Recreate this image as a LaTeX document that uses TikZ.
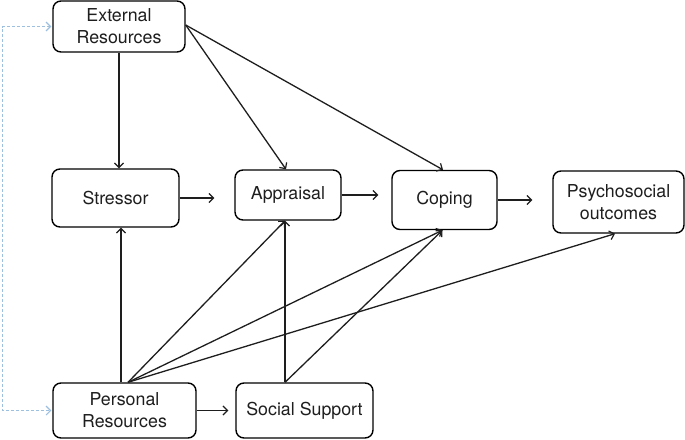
\documentclass[tikz,border=0pt]{standalone}
\usepackage{fontspec}
\setmainfont{TeX Gyre Heros}
\usetikzlibrary{arrows.meta, positioning}
\definecolor{linkBlue}{HTML}{9DBFE0}
\definecolor{inkDark}{HTML}{1E1E1E}

\begin{document}
\begin{tikzpicture}[x=1pt, y=-1pt,
    bloque/.style={draw, rounded corners=8pt, line width=1.4pt, align=center,
                   inner sep=0pt, text=inkDark,
                   font=\fontsize{17.8}{22}\selectfont},
    fl/.style={-{Straight Barb[length=4.5pt, width=9pt, line width=1.2pt]},
               line width=1.3pt, color=inkDark},
    enlace/.style={{Straight Barb[length=4.5pt, width=9pt]}-{Straight Barb[length=4.5pt, width=9pt]},
                   densely dashed, line width=1.1pt, color=linkBlue}]
    \useasboundingbox (0,0) rectangle (685,439);
    \node[bloque, minimum width=132pt, minimum height=51pt] (ext) at (119,26.5)  {External\\Resources};
    \node[bloque, minimum width=127pt, minimum height=58pt] (str) at (115.5,198) {Stressor};
    \node[bloque, minimum width=106pt, minimum height=50pt] (app) at (288,195)   {Appraisal};
    \node[bloque, minimum width=105pt, minimum height=59pt] (cop) at (444.5,200) {Coping};
    \node[bloque, minimum width=131pt, minimum height=62pt] (out) at (618.5,202) {Psychosocial\\outcomes};
    \node[bloque, minimum width=143pt, minimum height=55pt] (per) at (124.5,410.5) {Personal\\Resources};
    \node[bloque, minimum width=137pt, minimum height=55pt] (soc) at (304.5,410.5) {Social Support};
    % main chain
    \draw[fl, shorten >=20pt] (str.east) -- (str.east -| app.west);
    \draw[fl, shorten >=13pt] (app.east) -- (app.east -| cop.west);
    \draw[fl, shorten >=20pt] (cop.east) -- (cop.east -| out.west);
    \draw[fl, shorten >=7pt]  (per.east) -- (per.east -| soc.west);
    % external resources
    \draw[fl] (ext.south) -- (ext.south |- str.north);
    \draw[fl] ([yshift=1.5pt]ext.east) -- ([xshift=-2pt]app.north);
    \draw[fl] ([yshift=1.5pt]ext.east) -- ([xshift=-1.5pt]cop.north);
    % personal resources
    \coordinate (pr) at ([xshift=3.5pt]per.north);
    \draw[fl] ([xshift=-3.5pt]per.north) -- ([xshift=-3.5pt]per.north |- str.south);
    \draw[fl] (pr) -- ([xshift=-3pt]app.south);
    \draw[fl] (pr) -- ([xshift=-2pt]cop.south);
    \draw[fl] (pr) -- ([xshift=-3.5pt]out.south);
    % social support
    \coordinate (ss) at ([xshift=-3pt]app.south |- soc.north);
    \draw[fl] (ss) -- ([xshift=-3pt]app.south);
    \draw[fl] (ss) -- ([xshift=-2pt]cop.south);
    % link between resources
    \draw[enlace, shorten <=1pt, shorten >=1pt] (ext.west) -- ([xshift=-50pt]ext.west) |- (per.west);
\end{tikzpicture}
\end{document}
